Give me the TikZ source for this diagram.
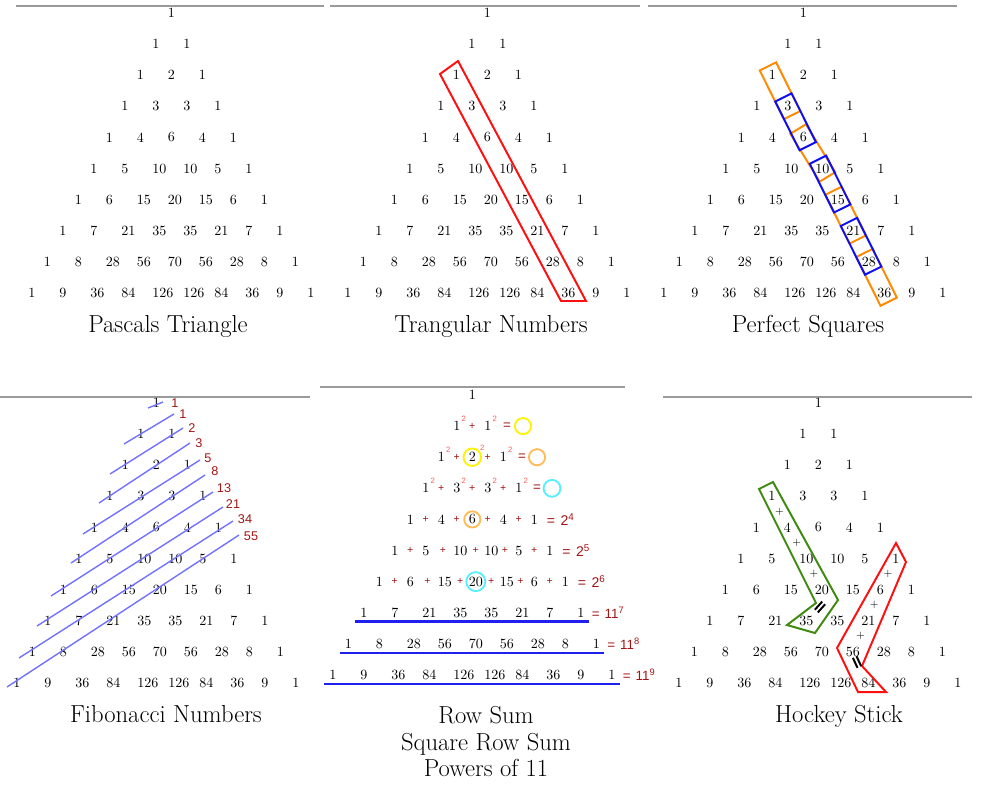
\documentclass[tikz,border=0pt]{standalone}
\usepackage{fontspec}
\newfontfamily\annofont{Liberation Sans}
\usetikzlibrary{calc,positioning}

\definecolor{darkred}{HTML}{A31515}
\definecolor{supred}{HTML}{FF5A5A}
\definecolor{ruleg}{HTML}{9A9A9A}
\definecolor{ringyellow}{HTML}{FFF200}
\definecolor{ringorange}{HTML}{FFBB55}
\definecolor{ringcyan}{HTML}{55EEFF}
\definecolor{fibblue}{HTML}{7272FF}
\definecolor{lineblue}{HTML}{1F1FEE}
\definecolor{sqorange}{HTML}{FF8A00}
\definecolor{sqblue}{HTML}{1010EE}
\definecolor{hsgreen}{HTML}{3F8A10}
\definecolor{boxred}{HTML}{FF1010}

\tikzset{
  entry/.style={anchor=west, inner sep=0pt, font=\fontsize{10}{12}\selectfont},
  paneltitle/.style={anchor=base, inner sep=0pt, font=\fontsize{17.5}{21}\selectfont},
  panelrule/.style={draw=ruleg, line width=1.3pt},
  boxline/.style={line width=1.4pt, line join=miter},
  fibline/.style={draw=fibblue, line width=1pt},
  fibnum/.style={inner sep=0pt, text=darkred, font=\annofont\fontsize{9}{10}\selectfont},
  plussign/.style={inner sep=0pt, text=darkred, font=\annofont\fontsize{7.5}{8}\selectfont},
  sqsup/.style={anchor=west, inner sep=0pt, text=supred, font=\annofont\fontsize{5.5}{6}\selectfont},
  eqsign/.style={inner sep=0pt, text=darkred, font=\annofont\fontsize{9.5}{10}\selectfont},
  powerlabel/.style={anchor=west, inner sep=0pt, text=darkred, font=\annofont\fontsize{10}{11}\selectfont},
  elevenlabel/.style={anchor=west, inner sep=0pt, text=darkred, font=\annofont\fontsize{9.5}{10}\selectfont},
  ring/.style={circle, draw=#1, line width=1.3pt, inner sep=0pt},
  uline/.style={draw=lineblue, line width=1.5pt},
  hsplus/.style={inner sep=0pt, font=\fontsize{7.5}{8}\selectfont},
  hseq/.style={line width=1.4pt},
}

% one row of the triangle: prefix, apex x, apex y, row, entries
\newcommand{\pascalrow}[5]{%
  \foreach \v [count=\k from 0] in {#5}
    \node[entry] (#1-#4-\k) at ({#2+(\k-#4/2)*31-3.5},{#3+#4*31.1}) {\v};
}
% whole triangle: prefix, apex x, apex y
\newcommand{\pascaltri}[3]{%
  \pascalrow{#1}{#2}{#3}{0}{1}
  \pascalrow{#1}{#2}{#3}{1}{1,1}
  \pascalrow{#1}{#2}{#3}{2}{1,2,1}
  \pascalrow{#1}{#2}{#3}{3}{1,3,3,1}
  \pascalrow{#1}{#2}{#3}{4}{1,4,6,4,1}
  \pascalrow{#1}{#2}{#3}{5}{1,5,10,10,5,1}
  \pascalrow{#1}{#2}{#3}{6}{1,6,15,20,15,6,1}
  \pascalrow{#1}{#2}{#3}{7}{1,7,21,35,35,21,7,1}
  \pascalrow{#1}{#2}{#3}{8}{1,8,28,56,70,56,28,8,1}
  \pascalrow{#1}{#2}{#3}{9}{1,9,36,84,126,126,84,36,9,1}
}
% box round two neighbours on a diagonal: colour, from, to
\newcommand{\sqbox}[3]{%
  \coordinate (ba) at ($(#2)!-7pt!(#3)$);
  \coordinate (bb) at ($(#3)!-7pt!(#2)$);
  \draw[#1, boxline] ($(ba)!6.5pt!90:(bb)$) -- ($(ba)!6.5pt!-90:(bb)$)
    -- ($(bb)!6.5pt!90:(ba)$) -- ($(bb)!6.5pt!-90:(ba)$) -- cycle;
}
% slanted equals mark: x, y, angle
\newcommand{\eqmark}[3]{%
  \begin{scope}[shift={(#1,#2)}, rotate=#3]
    \draw[hseq] (-5.5,-2) -- (5.5,-2) (-5.5,2) -- (5.5,2);
  \end{scope}
}

\begin{document}
\begin{tikzpicture}[x=0.025cm, y=-0.025cm]
  \useasboundingbox (0,0) rectangle (991,792);

  % top rules
  \draw[panelrule] (16,6) -- (324,6);
  \draw[panelrule] (330,6) -- (640,6);
  \draw[panelrule] (648,6) -- (957,6);
  \draw[panelrule] (0,397) -- (310,397);
  \draw[panelrule] (320,387) -- (625,387);
  \draw[panelrule] (663,397) -- (972,397);

  % Pascal
  \pascaltri{pt}{171}{13}
  \node[paneltitle] (t-pascal) at (168,332) {Pascals Triangle};

  % triangular numbers
  \pascaltri{tn}{487}{13}
  \draw[boxred, boxline] (440,74) -- (458,61) -- (586,301) -- (561,301) -- cycle;
  \node[paneltitle] (t-tri) at (491,332) {Trangular Numbers};

  % perfect squares
  \pascaltri{ps}{803}{13}
  \sqbox{sqorange}{ps-2-0}{ps-3-1}
  \sqbox{sqorange}{ps-4-2}{ps-5-3}
  \sqbox{sqorange}{ps-6-4}{ps-7-5}
  \sqbox{sqorange}{ps-8-6}{ps-9-7}
  \sqbox{sqblue}{ps-3-1}{ps-4-2}
  \sqbox{sqblue}{ps-5-3}{ps-6-4}
  \sqbox{sqblue}{ps-7-5}{ps-8-6}
  \node[paneltitle] (t-sq) at (808,332) {Perfect Squares};

  % fibonacci
  \pascaltri{fb}{156}{403}
  \foreach \sx/\sy/\ex/\ey/\lx/\ly/\f [count=\n] in
    {148/408/163/402/175/403/1, 124/444/174/414/183/414/1,
     110/474/183/428/192/428/2, 99/503/190/443/199/443/3,
     83/534/200/460/208/458/5, 71/563/205/475/215/471/8,
     51/596/213/492/224/488/13, 37/626/223/507/233/504/21,
     19/658/233/521/245/519/34, 7/687/239/535/251/536/55}{
    \draw[fibline] (\sx,\sy) -- (\ex,\ey);
    \node[fibnum] (fib-\n) at (\lx,\ly) {\f};
  }
  \node[paneltitle] (t-fib) at (166,722) {Fibonacci Numbers};

  % row sums, squares, powers of 11
  \pascaltri{rs}{472}{395}
  \foreach \r/\last in {1/0,2/1,3/2,4/3,5/4,6/5}{
    \foreach \k in {0,...,\last}{
      \pgfmathtruncatemacro{\kn}{\k+1}
      \node[plussign] (rs-p-\r-\k) at ($(rs-\r-\k)!0.5!(rs-\r-\kn)$) {+};
    }
  }
  \node[ring=ringyellow, minimum size=12.5pt] (rs-c-2) at (rs-2-1) {};
  \node[ring=ringorange, minimum size=11.5pt] (rs-c-4) at (rs-4-2) {};
  \node[ring=ringcyan, minimum size=13.5pt] (rs-c-6) at (rs-6-3) {};
  \foreach \n in {rs-1-0,rs-1-1,rs-2-0,rs-2-2,rs-3-0,rs-3-1,rs-3-2,rs-3-3}
    \node[sqsup] (sup-\n) at ([xshift=0.6pt,yshift=1.6pt]\n.north east) {2};
  \node[sqsup] (sup-rs-2-1) at ([xshift=0.4pt,yshift=1.5pt]rs-c-2.north east) {2};
  \node[eqsign] (rs-eq-1) at (507,426.1) {=};
  \node[ring=ringyellow, minimum size=11.5pt] (rs-a-1) at (523,426.1) {};
  \node[eqsign] (rs-eq-2) at (522,457.2) {=};
  \node[ring=ringorange, minimum size=11.5pt] (rs-a-2) at (537,457.2) {};
  \node[eqsign] (rs-eq-3) at (537,488.3) {=};
  \node[ring=ringcyan, minimum size=12pt] (rs-a-3) at (552,488.3) {};
  \node[powerlabel, right=6pt of rs-4-4] (rs-pow-4) {=\hspace{4pt}2\textsuperscript{4}};
  \node[powerlabel, right=6pt of rs-5-5] (rs-pow-5) {=\hspace{4pt}2\textsuperscript{5}};
  \node[powerlabel, right=6pt of rs-6-6] (rs-pow-6) {=\hspace{4pt}2\textsuperscript{6}};
  \foreach \r in {7,8,9}{
    \draw[uline] ([shift={(-3.5pt,-2.7pt)}]rs-\r-0.south west)
      -- ([shift={(3pt,-2.7pt)}]rs-\r-\r.south east);
    \node[elevenlabel, right=5pt of rs-\r-\r] (rs-pow-\r)
      {=\hspace{3.5pt}11\textsuperscript{\r}};
  }
  \node[paneltitle] (t-rs1) at (486,723) {Row Sum};
  \node[paneltitle] (t-rs2) at (486,750) {Square Row Sum};
  \node[paneltitle] (t-rs3) at (486,776) {Powers of 11};

  % hockey stick
  \pascaltri{hs}{818}{403}
  \draw[hsgreen, boxline] (759,489) -- (773,482) -- (838,600) -- (815,633)
    -- (787,625) -- (816,603) -- cycle;
  \draw[boxred, boxline] (896,543) -- (906,562) -- (862,666) -- (886,692)
    -- (858,692) -- (837,648) -- cycle;
  \foreach \a/\b in {3-0/4-1, 4-1/5-2, 5-2/6-3, 5-5/6-5, 6-5/7-5, 7-5/8-5}
    \node[hsplus] (hp-\a) at ($(hs-\a)!0.5!(hs-\b)$) {+};
  \eqmark{820}{607}{48}
  \eqmark{857}{662}{-65}
  \node[paneltitle] (t-hs) at (839,722) {Hockey Stick};
\end{tikzpicture}
\end{document}
